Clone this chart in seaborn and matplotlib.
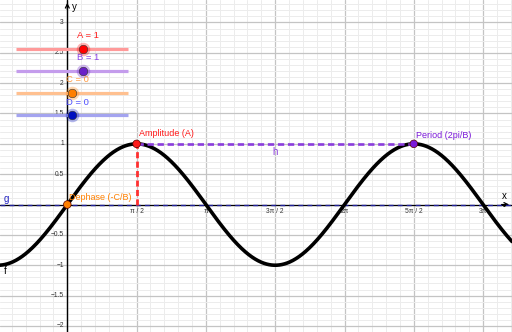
import numpy as np
import pandas as pd
import matplotlib
matplotlib.use("Agg")
import matplotlib.pyplot as plt
import seaborn as sns

# ---------------- data ----------------
param_names = ["A", "B", "C", "D"]
param_values = [1, 1, 0, 0]
slider_min, slider_max = -5, 5

x_tick_values = [np.pi / 2, np.pi, 3 * np.pi / 2, 2 * np.pi, 5 * np.pi / 2, 3 * np.pi]
x_tick_labels = ["π / 2", "π", "3π / 2", "2π", "5π / 2", "3π"]
y_tick_values = [-2, -1.5, -1, -0.5, 0.5, 1, 1.5, 2, 2.5, 3]
y_tick_labels = ["−2", "−1.5", "−1", "−0.5", "0.5", "1", "1.5", "2", "2.5", "3"]

# ---------------- style ----------------
sns.set_theme(style="white")
plt.rcParams["font.family"] = ["Liberation Sans", "DejaVu Sans"]

W, H = 512, 332
fig = plt.figure(figsize=(W / 100, H / 100), dpi=100)
ax = fig.add_axes([0, 0, 1, 1])
x_lo, x_hi = -1.526, 10.08
y_lo, y_hi = -2.10, 3.37
ax.set_autoscale_on(False)
ax.set_xlim(x_lo, x_hi)
ax.set_ylim(y_lo, y_hi)
for s in ax.spines.values():
    s.set_visible(False)

# grid
ax.set_xticks(np.arange(-1, 8) * np.pi / 2)
ax.set_xticks(np.arange(-5, 40) * np.pi / 10, minor=True)
ax.set_yticks(np.arange(-4, 8) * 0.5)
ax.set_yticks(np.arange(-22, 35) * 0.1, minor=True)
ax.grid(which="minor", color="#ececec", lw=0.7, zorder=0)
ax.grid(which="major", color="#c4c4c4", lw=0.9, zorder=0.5)
ax.tick_params(which="both", length=0, labelbottom=False, labelleft=False)

# axes
ax.axhline(0, color="black", lw=0.9, zorder=2)
ax.axvline(0, color="black", lw=1.0, zorder=2)
ax.annotate("", xy=(x_hi, 0), xytext=(x_hi - 0.3, 0),
            arrowprops=dict(arrowstyle="->", lw=0.9, color="black", mutation_scale=7), zorder=2)
ax.annotate("", xy=(0, y_hi), xytext=(0, y_hi - 0.2),
            arrowprops=dict(arrowstyle="->", lw=0.9, color="black", mutation_scale=7), zorder=2)
ax.text(x_hi - 0.18, 0.06, "x", fontsize=7, color="black", ha="center", va="bottom")
ax.text(0.11, y_hi - 0.03, "y", fontsize=7, color="black", ha="left", va="top")

# tick labels
tick_fs = 4.8
tick_col = "#333333"
for v, lab in zip(x_tick_values, x_tick_labels):
    ax.annotate(lab, (v, 0), xytext=(0, -6.5), textcoords="offset pixels",
                ha="center", va="center", fontsize=tick_fs, color=tick_col)
for v, lab in zip(y_tick_values, y_tick_labels):
    ax.annotate(lab, (0, v), xytext=(-3.5, 0), textcoords="offset pixels",
                ha="right", va="center", fontsize=tick_fs, color=tick_col)

A, B, C, D = param_values
# line g (dashed, y = D)
ax.axhline(D, color="#22229a", lw=1.0, dashes=(3.5, 3), zorder=3)
ax.annotate("g", (x_lo, D), xytext=(4, 6), textcoords="offset pixels",
            ha="left", va="center", fontsize=7, color="#2020c0")

# curve f
xs = np.linspace(x_lo, x_hi, 800)
df = pd.DataFrame({"x": xs, "y": A * np.sin(B * xs + C) + D})
sns.lineplot(data=df, x="x", y="y", ax=ax, color="black", lw=2.6, zorder=5, sort=False)
ax.annotate("f", (x_lo, A * np.sin(B * x_lo + C) + D), xytext=(5, -6), textcoords="offset pixels",
            ha="center", va="center", fontsize=7, color="black")

# special points
x_amp = (np.pi / 2 - C) / B
y_amp = A + D
x_dep = -C / B
x_per = x_amp + 2 * np.pi / B

ax.plot([x_amp, x_amp], [D, y_amp], color="#ff3030", lw=2.0, dashes=(2.2, 1.2), zorder=6)
ax.plot([x_amp, x_per], [y_amp, y_amp], color="#8a3cdc", lw=1.9, dashes=(2.4, 1.4), zorder=6)
ax.text((x_amp + x_per) / 2, y_amp - 0.05, "h", fontsize=7, color="#8a3cdc", ha="center", va="top")

pts = pd.DataFrame({"x": [x_amp, x_dep, x_per], "y": [y_amp, D, y_amp],
                    "name": ["amp", "dep", "per"]})
sns.scatterplot(data=pts, x="x", y="y", hue="name",
                palette={"amp": "#ff1a1a", "dep": "#ff8000", "per": "#7a18d8"},
                s=30, edgecolor="#5a0000", linewidth=0.5, legend=False, ax=ax, zorder=8)
ax.annotate("Amplitude (A)", (x_amp, y_amp), xytext=(2, 10), textcoords="offset pixels",
            ha="left", va="center", fontsize=6.5, color="#ff1a1a", zorder=9)
ax.annotate("Dephase (-C/B)", (x_dep, D), xytext=(2, 7.5), textcoords="offset pixels",
            ha="left", va="center", fontsize=6.5, color="#ff8000", zorder=9)
ax.annotate("Period (2pi/B)", (x_per, y_amp), xytext=(2, 8.5), textcoords="offset pixels",
            ha="left", va="center", fontsize=6.5, color="#7a18d8", zorder=9)

# sliders (pixel layout)
track_l, track_r = 16, 128
row_y = [49, 71, 93, 115]
track_cols = ["#ff9a9a", "#c49cec", "#ffc090", "#a4a4f0"]
knob_cols = ["#ff0000", "#6a20c8", "#ff7f00", "#0010c0"]
label_cols = ["#ff2020", "#8a40e8", "#ff9a40", "#5050ff"]
to_fx = lambda px: px / W
to_fy = lambda py: 1 - py / H
for name, val, py, tc, kc, lc in zip(param_names, param_values, row_y, track_cols, knob_cols, label_cols):
    ax.plot([to_fx(track_l), to_fx(track_r)], [to_fy(py), to_fy(py)], transform=ax.transAxes,
            color=tc, lw=2.3, solid_capstyle="butt", zorder=10)
    kx = track_l + (val - slider_min) / (slider_max - slider_min) * (track_r - track_l)
    ax.scatter([to_fx(kx)], [to_fy(py)], transform=ax.transAxes, s=95, color=kc, alpha=0.3,
               linewidth=0, zorder=11)
    ax.scatter([to_fx(kx)], [to_fy(py)], transform=ax.transAxes, s=38, color=kc,
               edgecolor="#333333", linewidth=0.4, zorder=12)
    ax.text(to_fx(kx - 6), to_fy(py - 13), f"{name} = {val}", transform=ax.transAxes,
            ha="left", va="center", fontsize=6.8, color=lc, zorder=12)

ax.set_xlim(x_lo, x_hi)
ax.set_ylim(y_lo, y_hi)
fig.savefig("out.png", dpi=100)
